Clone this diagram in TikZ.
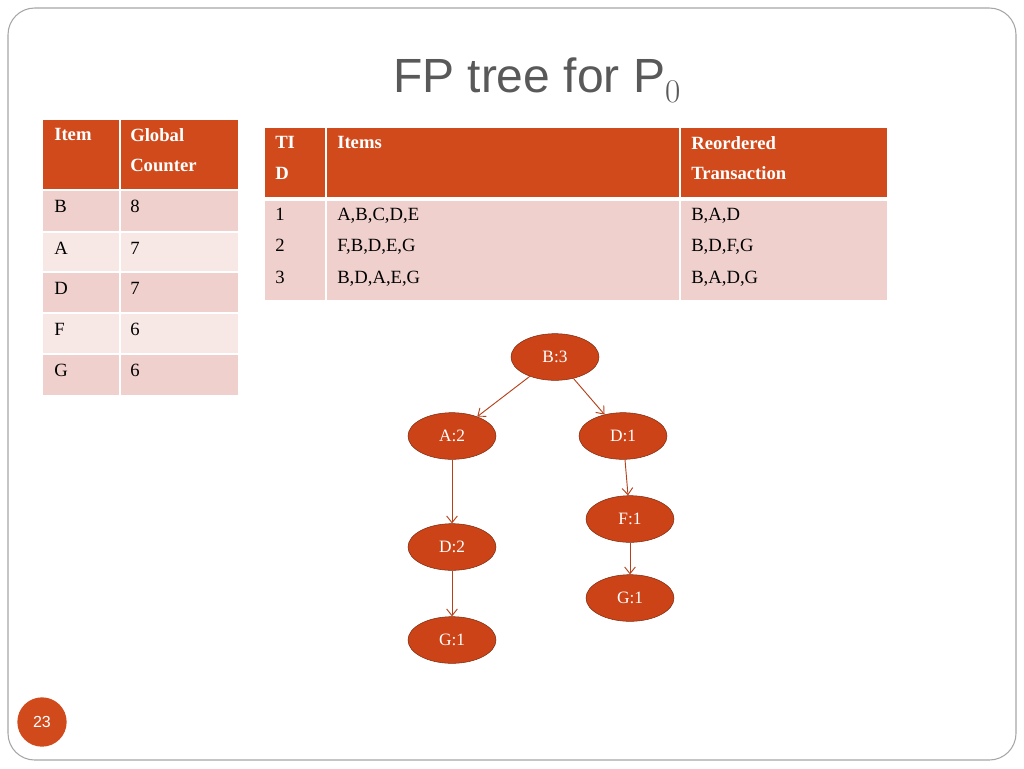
\documentclass[tikz,border=0pt]{standalone}
\usepackage{fontspec}
\setmainfont{Liberation Serif}
\newfontfamily\titlefont{Liberation Sans}
\usetikzlibrary{shapes.geometric,arrows.meta}
\definecolor{hdr}{HTML}{D04A1C}
\definecolor{rowa}{HTML}{EFD0CC}
\definecolor{rowb}{HTML}{F7E8E6}
\definecolor{nodefill}{HTML}{CC4317}
\definecolor{edge}{HTML}{B5401A}
\begin{document}
\begin{tikzpicture}[x=0.75pt,y=-0.75pt,
  cell/.style={anchor=north west,font=\fontsize{14}{18}\selectfont,align=left,inner sep=0pt},
  hcell/.style={cell,text=white,font=\bfseries\fontsize{14}{23}\selectfont},
  tnode/.style={ellipse,draw=edge!70!black,fill=nodefill,text=white,minimum width=66pt,minimum height=35pt,inner sep=0pt,font=\fontsize{13}{15}\selectfont},
  link/.style={draw=edge,-{Straight Barb[length=5pt,width=8pt]},line width=0.7pt}]
\useasboundingbox (0,0) rectangle (1024,768);
\draw[gray!70,line width=0.8pt,rounded corners=20pt] (8,8) rectangle (1016,760);
\node[font=\titlefont\fontsize{36}{40}\selectfont,text=black!65] (title) at (537,80) {FP tree for P$_0$};
% left table
\fill[hdr] (43,120) rectangle (238,190);
\fill[rowa] (43,190) rectangle (238,232);
\fill[rowb] (43,232) rectangle (238,272);
\fill[rowa] (43,272) rectangle (238,313);
\fill[rowb] (43,313) rectangle (238,354);
\fill[rowa] (43,354) rectangle (238,395);
\foreach \y in {190,232,272,313,354} \draw[white,line width=1.5pt] (43,\y) -- (238,\y);
\draw[white,line width=1.5pt] (120,120) -- (120,395);
\node[hcell] (h1) at (54,128) {Item};
\node[hcell] (h2) at (130,128) {Global\\Counter};
\foreach \i/\c/\y in {B/8/200,A/7/242,D/7/282,F/6/323,G/6/364}{
  \node[cell] at (54,\y) {\i};
  \node[cell] at (130,\y) {\c};}
% right table
\fill[hdr] (265,128) rectangle (887,197);
\fill[rowa] (265,197) rectangle (887,300);
\draw[white,line width=2.5pt] (265,199) -- (887,199);
\draw[white,line width=1.5pt] (326,128) -- (326,300);
\draw[white,line width=1.5pt] (680,128) -- (680,300);
\node[hcell] (t1) at (275,136) {TI\\D};
\node[hcell] (t2) at (337,136) {Items};
\node[hcell] (t3) at (691,136) {Reordered\\Transaction};
\node[cell,font=\fontsize{14}{23.5}\selectfont] (c1) at (275,208) {1\\2\\3};
\node[cell,font=\fontsize{14}{23.5}\selectfont] (c2) at (337,208) {A,B,C,D,E\\F,B,D,E,G\\B,D,A,E,G};
\node[cell,font=\fontsize{14}{23.5}\selectfont] (c3) at (691,208) {B,A,D\\B,D,F,G\\B,A,D,G};
% tree
\node[tnode] (b3) at (555,357) {B:3};
\node[tnode] (a2) at (452,436) {A:2};
\node[tnode] (d1) at (623,436) {D:1};
\node[tnode] (d2) at (452,547) {D:2};
\node[tnode] (f1) at (630,519) {F:1};
\node[tnode] (g1) at (452,640) {G:1};
\node[tnode] (g2) at (630,598) {G:1};
\draw[link] (b3) -- (a2);
\draw[link] (b3) -- (d1);
\draw[link] (a2) -- (d2);
\draw[link] (d2) -- (g1);
\draw[link] (d1) -- (f1);
\draw[link] (f1) -- (g2);
% page number
\node[circle,fill=hdr,minimum size=37pt,inner sep=0pt,text=white,font=\titlefont\fontsize{12}{14}\selectfont] (pg) at (42,722) {23};
\end{tikzpicture}
\end{document}
